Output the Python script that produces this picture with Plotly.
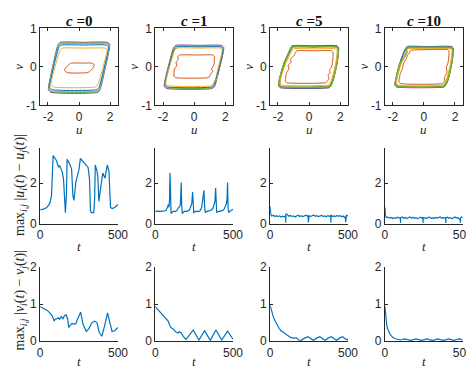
import plotly.graph_objects as go

# ---------------- DATA ----------------
titles = ["c =0", "c =1", "c =5", "c =10"]

C_BLUE, C_ORANGE, C_YELLOW, C_PURPLE, C_GREEN, C_LBLUE = "#0072BD", "#D95319", "#EDB120", "#7E2F8E", "#77AC30", "#4DBEEE"

# phase portraits (u, v) for each coupling strength
c0_purple_u = [0.3, 1.8, 1.97, 1.92, 1.35, 1.2, -1.8, -1.97, -1.92, -1.35, -1.2, 0.3]
c0_purple_v = [0.64, 0.64, 0.59, 0.42, -0.58, -0.66, -0.66, -0.59, -0.42, 0.58, 0.64, 0.64]
c0_green_u = [0.3, 1.77, 1.94, 1.89, 1.33, 1.18, -1.77, -1.95, -1.9, -1.33, -1.18, 0.3]
c0_green_v = [0.62, 0.62, 0.57, 0.41, -0.57, -0.64, -0.64, -0.57, -0.41, 0.57, 0.62, 0.62]
c0_lblue_u = [0.3, 1.75, 1.91, 1.86, 1.31, 1.16, -1.75, -1.92, -1.87, -1.31, -1.16, 0.3]
c0_lblue_v = [0.6, 0.6, 0.55, 0.39, -0.55, -0.62, -0.62, -0.55, -0.39, 0.55, 0.6, 0.6]
c0_blue_u = [0.3, 1.72, 1.88, 1.83, 1.28, 1.13, -1.72, -1.89, -1.84, -1.28, -1.13, 0.3]
c0_blue_v = [0.57, 0.57, 0.53, 0.37, -0.53, -0.59, -0.59, -0.53, -0.37, 0.53, 0.57, 0.57]
c0_yellow_u = [0.3, 1.63, 1.8, 1.75, 1.2, 1.05, -1.63, -1.8, -1.75, -1.2, -1.05, 0.3]
c0_yellow_v = [0.49, 0.49, 0.45, 0.32, -0.46, -0.52, -0.52, -0.46, -0.32, 0.45, 0.49, 0.49]
c0_orange_u = [0.2, 0.82, 0.97, 0.9, 0.68, 0.5, -0.75, -0.93, -0.88, -0.62, -0.5, 0.2]
c0_orange_v = [0.1, 0.1, 0.06, -0.02, -0.12, -0.15, -0.15, -0.1, -0.03, 0.07, 0.1, 0.1]

c1_purple_u = [0.3, 1.75, 1.9, 1.86, 1.32, 1.17, -1.75, -1.92, -1.88, -1.32, -1.17, 0.3]
c1_purple_v = [0.56, 0.56, 0.51, 0.36, -0.5, -0.56, -0.56, -0.51, -0.36, 0.5, 0.56, 0.56]
c1_green_u = [0.3, 1.73, 1.87, 1.83, 1.3, 1.15, -1.73, -1.89, -1.85, -1.3, -1.15, 0.3]
c1_green_v = [0.54, 0.54, 0.49, 0.35, -0.48, -0.54, -0.54, -0.49, -0.35, 0.48, 0.54, 0.54]
c1_blue_u = [0.3, 1.7, 1.84, 1.8, 1.27, 1.12, -1.7, -1.86, -1.82, -1.27, -1.12, 0.3]
c1_blue_v = [0.52, 0.52, 0.47, 0.33, -0.46, -0.52, -0.52, -0.47, -0.33, 0.46, 0.52, 0.52]
c1_yellow_u = [0.3, 1.66, 1.8, 1.74, 1.45, 1.5, 1.3, 1.22, 1.08, -1.66, -1.82, -1.78, -1.24, -1.08, 0.3]
c1_yellow_v = [0.49, 0.49, 0.45, 0.3, -0.2, -0.3, -0.36, -0.44, -0.49, -0.49, -0.45, -0.3, 0.44, 0.49, 0.49]
c1_orange_u = [0.2, 1.2, 1.3, 1.27, 1.12, 1.2, 1.05, 1.0, 0.88, -1.18, -1.3, -1.26, -1.12, -1.16, -1.02, -1.05, -0.92, 0.2]
c1_orange_v = [0.31, 0.31, 0.27, 0.05, -0.05, -0.12, -0.18, -0.25, -0.28, -0.28, -0.24, -0.05, 0.03, 0.12, 0.2, 0.27, 0.31, 0.31]

c5_purple_u = [0.3, 1.8, 1.9, 1.8, 1.55, 1.4, 1.3, -1.85, -1.96, -1.9, -1.62, -1.2, -1.1, 0.3]
c5_purple_v = [0.55, 0.55, 0.5, 0.1, -0.35, -0.5, -0.54, -0.54, -0.49, -0.3, 0.1, 0.48, 0.55, 0.55]
c5_blue_u = [0.3, 1.78, 1.88, 1.78, 1.53, 1.38, 1.28, -1.83, -1.94, -1.88, -1.6, -1.18, -1.08, 0.3]
c5_blue_v = [0.535, 0.535, 0.49, 0.09, -0.34, -0.49, -0.525, -0.525, -0.48, -0.29, 0.095, 0.465, 0.535, 0.535]
c5_green_u = [0.3, 1.76, 1.86, 1.76, 1.52, 1.37, 1.27, -1.81, -1.92, -1.86, -1.58, -1.17, -1.07, 0.3]
c5_green_v = [0.52, 0.52, 0.47, 0.08, -0.33, -0.48, -0.51, -0.51, -0.46, -0.28, 0.09, 0.45, 0.52, 0.52]
c5_yellow_u = [0.3, 1.7, 1.8, 1.7, 1.47, 1.32, 1.22, -1.75, -1.85, -1.79, -1.52, -1.12, -1.02, 0.3]
c5_yellow_v = [0.47, 0.47, 0.43, 0.06, -0.3, -0.44, -0.47, -0.47, -0.42, -0.25, 0.07, 0.41, 0.47, 0.47]
c5_orange_u = [0.3, 1.45, 1.54, 1.5, 1.42, 1.3, 1.38, 1.22, 1.28, 1.15, 1.05, -1.45, -1.52, -1.45, -1.3, -1.35, -1.15, -1.2, -0.95, -0.88, -0.78, 0.3]
c5_orange_v = [0.42, 0.42, 0.38, 0.1, -0.02, -0.08, -0.15, -0.2, -0.3, -0.38, -0.41, -0.41, -0.37, -0.15, -0.05, 0.05, 0.12, 0.2, 0.3, 0.38, 0.42, 0.42]

c10_purple_u = [0.3, 1.8, 1.9, 1.8, 1.55, 1.4, 1.3, -1.75, -1.86, -1.8, -1.55, -1.2, -1.08, 0.3]
c10_purple_v = [0.53, 0.53, 0.48, 0.1, -0.35, -0.48, -0.52, -0.52, -0.47, -0.3, 0.1, 0.47, 0.53, 0.53]
c10_blue_u = [0.3, 1.78, 1.88, 1.78, 1.53, 1.38, 1.28, -1.73, -1.84, -1.78, -1.52, -1.18, -1.06, 0.3]
c10_blue_v = [0.515, 0.515, 0.47, 0.09, -0.34, -0.47, -0.51, -0.51, -0.46, -0.29, 0.1, 0.455, 0.515, 0.515]
c10_green_u = [0.3, 1.76, 1.86, 1.76, 1.52, 1.37, 1.27, -1.71, -1.82, -1.76, -1.5, -1.2, -1.1, -1.15, -1.03, 0.3]
c10_green_v = [0.5, 0.5, 0.46, 0.08, -0.33, -0.46, -0.5, -0.5, -0.45, -0.28, 0.1, 0.3, 0.38, 0.45, 0.5, 0.5]
c10_yellow_u = [0.3, 1.7, 1.8, 1.7, 1.47, 1.32, 1.22, -1.66, -1.76, -1.7, -1.45, -1.1, -1.0, 0.3]
c10_yellow_v = [0.47, 0.47, 0.43, 0.06, -0.3, -0.43, -0.47, -0.47, -0.42, -0.25, 0.08, 0.41, 0.47, 0.47]
c10_orange_u = [0.3, 1.55, 1.62, 1.55, 1.45, 1.48, 1.35, 1.3, 1.2, -1.52, -1.6, -1.5, -1.38, -1.3, -1.15, -1.05, -0.95, -0.85, 0.3]
c10_orange_v = [0.45, 0.45, 0.41, 0.1, 0.0, -0.15, -0.25, -0.38, -0.43, -0.43, -0.38, -0.15, -0.05, 0.1, 0.2, 0.3, 0.35, 0.43, 0.45]

# max_ij |u_i - u_j| time series
du_c0_t = [0, 21, 42, 62, 73, 79, 83, 104, 119, 125, 142, 150, 158, 162, 169, 173, 187, 202, 210, 217, 229, 240, 250, 258, 281, 308, 317, 323, 329, 344, 350, 354, 365, 371, 377, 387, 402, 417, 427, 431, 442, 446, 452, 462, 479, 500]
du_c0_v = [0.69, 0.72, 0.8, 1.0, 1.4, 2.5, 3.37, 3.12, 2.78, 2.88, 2.55, 2.2, 0.6, 0.55, 1.5, 3.18, 3.0, 2.7, 1.4, 1.15, 2.05, 2.35, 2.7, 3.22, 3.0, 2.78, 2.2, 0.65, 0.55, 0.55, 1.2, 2.9, 2.6, 2.3, 1.1, 1.6, 2.5, 2.25, 2.6, 2.9, 2.6, 1.5, 0.8, 0.75, 0.8, 0.95]

du_c1_t = [0, 10, 20, 30, 40, 50, 60, 70, 80, 85, 88, 92, 95, 98, 102, 110, 120, 130, 140, 150, 158, 162, 167, 170, 174, 182, 190, 200, 210, 220, 228, 235, 240, 244, 248, 258, 268, 278, 288, 298, 305, 310, 313, 317, 321, 330, 340, 350, 360, 370, 378, 384, 388, 391, 395, 405, 415, 425, 435, 445, 452, 458, 462, 465, 468, 472, 480, 490, 500]
du_c1_v = [0.62, 0.6, 0.63, 0.6, 0.62, 0.61, 0.63, 0.66, 0.9, 0.95, 0.8, 1.2, 2.52, 1.0, 0.5, 0.58, 0.62, 0.6, 0.66, 0.8, 0.85, 1.0, 2.03, 0.9, 0.5, 0.58, 0.62, 0.6, 0.63, 0.68, 0.85, 1.0, 1.56, 0.85, 0.55, 0.6, 0.62, 0.6, 0.64, 0.8, 1.2, 1.4, 1.65, 0.9, 0.55, 0.6, 0.62, 0.64, 0.68, 0.75, 0.9, 1.1, 1.76, 0.85, 0.55, 0.6, 0.62, 0.64, 0.66, 0.75, 0.9, 1.0, 1.3, 2.03, 0.8, 0.55, 0.62, 0.68, 0.72]

du_c5_t = [0, 4, 10, 20, 30, 40, 50, 60, 70, 80, 90, 99, 100, 101, 110, 120, 130, 140, 150, 160, 170, 180, 190, 200, 210, 220, 230, 240, 244, 245, 250, 260, 270, 280, 290, 300, 310, 320, 330, 340, 350, 360, 370, 380, 389, 390, 391, 400, 410, 420, 430, 440, 450, 460, 470, 480, 484, 485, 490, 500]
du_c5_v = [0.85, 0.45, 0.38, 0.42, 0.36, 0.4, 0.35, 0.39, 0.33, 0.37, 0.34, 0.4, 0.05, 0.5, 0.45, 0.37, 0.41, 0.36, 0.39, 0.33, 0.38, 0.42, 0.36, 0.4, 0.35, 0.38, 0.42, 0.37, 0.39, 0.06, 0.4, 0.36, 0.39, 0.43, 0.37, 0.4, 0.35, 0.38, 0.41, 0.36, 0.39, 0.34, 0.4, 0.37, 0.41, 0.05, 0.42, 0.36, 0.39, 0.35, 0.41, 0.37, 0.4, 0.34, 0.38, 0.3, 0.35, 0.08, 0.42, 0.39]

du_c10_t = [0, 3, 10, 20, 30, 40, 50, 60, 70, 80, 90, 99, 100, 101, 110, 120, 130, 140, 150, 160, 170, 180, 190, 200, 210, 220, 230, 240, 244, 245, 246, 255, 265, 275, 285, 295, 305, 315, 325, 335, 345, 355, 365, 375, 385, 390, 391, 392, 400, 410, 420, 430, 440, 450, 460, 470, 480, 484, 485, 486, 495, 500]
du_c10_v = [0.8, 0.4, 0.3, 0.33, 0.28, 0.31, 0.26, 0.3, 0.27, 0.32, 0.28, 0.3, 0.04, 0.3, 0.33, 0.27, 0.31, 0.26, 0.3, 0.34, 0.28, 0.31, 0.27, 0.3, 0.25, 0.29, 0.32, 0.27, 0.29, 0.05, 0.3, 0.29, 0.26, 0.3, 0.33, 0.27, 0.3, 0.26, 0.31, 0.28, 0.3, 0.34, 0.27, 0.3, 0.28, 0.3, 0.04, 0.3, 0.32, 0.27, 0.3, 0.25, 0.29, 0.33, 0.28, 0.3, 0.22, 0.25, 0.05, 0.3, 0.34, 0.31]

# max_ij |v_i - v_j| time series
dv_c0_t = [0, 21, 46, 62, 79, 90, 96, 105, 115, 125, 135, 146, 156, 167, 177, 183, 192, 204, 219, 229, 240, 254, 260, 275, 296, 312, 333, 350, 365, 379, 396, 417, 433, 448, 462, 479, 500]
dv_c0_v = [0.93, 0.89, 0.83, 0.76, 0.67, 0.54, 0.59, 0.6, 0.63, 0.59, 0.66, 0.6, 0.69, 0.71, 0.59, 0.37, 0.43, 0.48, 0.46, 0.47, 0.59, 0.76, 0.78, 0.46, 0.26, 0.33, 0.5, 0.54, 0.5, 0.24, 0.13, 0.46, 0.76, 0.5, 0.26, 0.28, 0.37]

dv_c1_t = [0, 31, 62, 83, 94, 100, 115, 131, 146, 156, 167, 181, 198, 244, 281, 317, 354, 390, 427, 465, 500]
dv_c1_v = [0.93, 0.78, 0.63, 0.54, 0.42, 0.37, 0.33, 0.25, 0.22, 0.25, 0.22, 0.12, 0.05, 0.3, 0.03, 0.28, 0.02, 0.3, 0.03, 0.27, 0.05]

dv_c5_t = [0, 8, 17, 27, 37, 48, 58, 70, 90, 110, 131, 152, 169, 183, 200, 220, 242, 260, 277, 298, 319, 336, 352, 372, 392, 410, 425, 445, 465, 483, 500]
dv_c5_v = [0.96, 0.82, 0.7, 0.58, 0.49, 0.4, 0.34, 0.28, 0.22, 0.17, 0.1, 0.08, 0.09, 0.03, 0.02, 0.08, 0.12, 0.07, 0.02, 0.08, 0.12, 0.07, 0.02, 0.08, 0.12, 0.07, 0.02, 0.08, 0.12, 0.06, 0.03]

dv_c10_t = [0, 5, 12, 20, 27, 37, 48, 62, 79, 100, 115, 130, 145, 165, 185, 200, 215, 235, 255, 270, 285, 305, 325, 340, 355, 375, 395, 410, 425, 445, 465, 480, 500]
dv_c10_v = [0.93, 0.65, 0.41, 0.3, 0.24, 0.16, 0.11, 0.07, 0.05, 0.03, 0.05, 0.06, 0.04, 0.02, 0.04, 0.06, 0.04, 0.02, 0.04, 0.06, 0.04, 0.02, 0.04, 0.06, 0.04, 0.02, 0.04, 0.06, 0.04, 0.02, 0.05, 0.06, 0.03]

phase_curves = [
    [(C_PURPLE, c0_purple_u, c0_purple_v), (C_GREEN, c0_green_u, c0_green_v), (C_LBLUE, c0_lblue_u, c0_lblue_v),
     (C_BLUE, c0_blue_u, c0_blue_v), (C_YELLOW, c0_yellow_u, c0_yellow_v), (C_ORANGE, c0_orange_u, c0_orange_v)],
    [(C_PURPLE, c1_purple_u, c1_purple_v), (C_GREEN, c1_green_u, c1_green_v), (C_BLUE, c1_blue_u, c1_blue_v),
     (C_YELLOW, c1_yellow_u, c1_yellow_v), (C_ORANGE, c1_orange_u, c1_orange_v)],
    [(C_PURPLE, c5_purple_u, c5_purple_v), (C_BLUE, c5_blue_u, c5_blue_v), (C_GREEN, c5_green_u, c5_green_v),
     (C_YELLOW, c5_yellow_u, c5_yellow_v), (C_ORANGE, c5_orange_u, c5_orange_v)],
    [(C_PURPLE, c10_purple_u, c10_purple_v), (C_BLUE, c10_blue_u, c10_blue_v), (C_GREEN, c10_green_u, c10_green_v),
     (C_YELLOW, c10_yellow_u, c10_yellow_v), (C_ORANGE, c10_orange_u, c10_orange_v)],
]
du_series = [(du_c0_t, du_c0_v), (du_c1_t, du_c1_v), (du_c5_t, du_c5_v), (du_c10_t, du_c10_v)]
dv_series = [(dv_c0_t, dv_c0_v), (dv_c1_t, dv_c1_v), (dv_c5_t, dv_c5_v), (dv_c10_t, dv_c10_v)]

# ---------------- LAYOUT ----------------
W, H = 474, 368
cols = [(30, 110), (148.3, 228.3), (266.5, 346.5), (384.5, 464.5)]
rows = [(14, 94), (138, 217), (262, 339)]
AX = "#262626"
TICKFONT = dict(family="Liberation Sans, Arial, sans-serif", size=12, color=AX)
SERIF = "Liberation Serif, Times New Roman, serif"


def xp(x):
    return x / W


def yp(y):
    return 1 - y / H


def label(text, x, y, size=14, angle=0, color=AX):
    return dict(text=text, x=xp(x), y=yp(y), xref="paper", yref="paper", showarrow=False,
                xanchor="center", yanchor="middle", textangle=angle,
                font=dict(family=SERIF, size=size, color=color))


fig = go.Figure()
layout = dict(width=W, height=H, margin=dict(l=0, r=0, t=0, b=0), paper_bgcolor="white",
              plot_bgcolor="white", showlegend=False, autosize=False)

annotations = []
for r in range(3):
    for c in range(4):
        k = r * 4 + c + 1
        xa = "xaxis" if k == 1 else f"xaxis{k}"
        ya = "yaxis" if k == 1 else f"yaxis{k}"
        xref = "x" if k == 1 else f"x{k}"
        yref = "y" if k == 1 else f"y{k}"
        base = dict(showline=True, linecolor=AX, linewidth=1, ticks="inside", ticklen=3, tickcolor=AX,
                    tickfont=TICKFONT, showgrid=False, zeroline=False, fixedrange=True,
                    mirror="ticks" if r == 0 else False)
        xd = dict(base, domain=[xp(cols[c][0]), xp(cols[c][1])], anchor=yref)
        yd = dict(base, domain=[yp(rows[r][1]), yp(rows[r][0])], anchor=xref)
        if r == 0:
            xd.update(range=[-2.5, 2.5], tickvals=[-2, 0, 2], ticktext=["-2", "0", "2"])
            yd.update(range=[-1, 1], tickvals=[-1, 0, 1], ticktext=["-1", "0", "1"])
            for color, u, v in phase_curves[c]:
                w = 2.0 if (color == C_GREEN and c >= 2) else 1.0
                fig.add_trace(go.Scatter(x=u, y=v, mode="lines", xaxis=xref, yaxis=yref, hoverinfo="skip",
                                         line=dict(color=color, width=w, shape="spline", smoothing=0.5)))
        else:
            xd.update(range=[0, 500], tickvals=[0, 500], ticktext=["0", "500"])
            if r == 1:
                yd.update(range=[0, 3.75], tickvals=[0, 2], ticktext=["0", "2"])
                t, val = du_series[c]
            else:
                yd.update(range=[0, 2], tickvals=[0, 1, 2], ticktext=["0", "1", "2"])
                t, val = dv_series[c]
            fig.add_trace(go.Scatter(x=t, y=val, mode="lines", xaxis=xref, yaxis=yref, hoverinfo="skip",
                                     line=dict(color=C_BLUE, width=1.2)))
        layout[xa] = xd
        layout[ya] = yd

        cx = (cols[c][0] + cols[c][1]) / 2
        if r == 0:
            annotations.append(label("<i>u</i>", cx, 119, size=13))
            annotations.append(label("<i>v</i>", cols[c][0] - 22, 54, size=13, angle=-90))
            annotations.append(label("<b><i>c</i> " + titles[c][2:] + "</b>", cx, 6, size=15, color="#111111"))
        else:
            annotations.append(label("<i>t</i>", cx, 241 if r == 1 else 360, size=13))

annotations.append(label("max<sub><i>i,j</i></sub> |<i>u<sub>i</sub></i>(<i>t</i>) − <i>u<sub>j</sub></i>(<i>t</i>)|",
                         10, 177, size=14, angle=-90))
annotations.append(label("max<sub><i>i,j</i></sub> |<i>v<sub>i</sub></i>(<i>t</i>) − <i>v<sub>j</sub></i>(<i>t</i>)|",
                         10, 297, size=14, angle=-90))
layout["annotations"] = annotations
fig.update_layout(**layout)
fig.write_html("out.html")
